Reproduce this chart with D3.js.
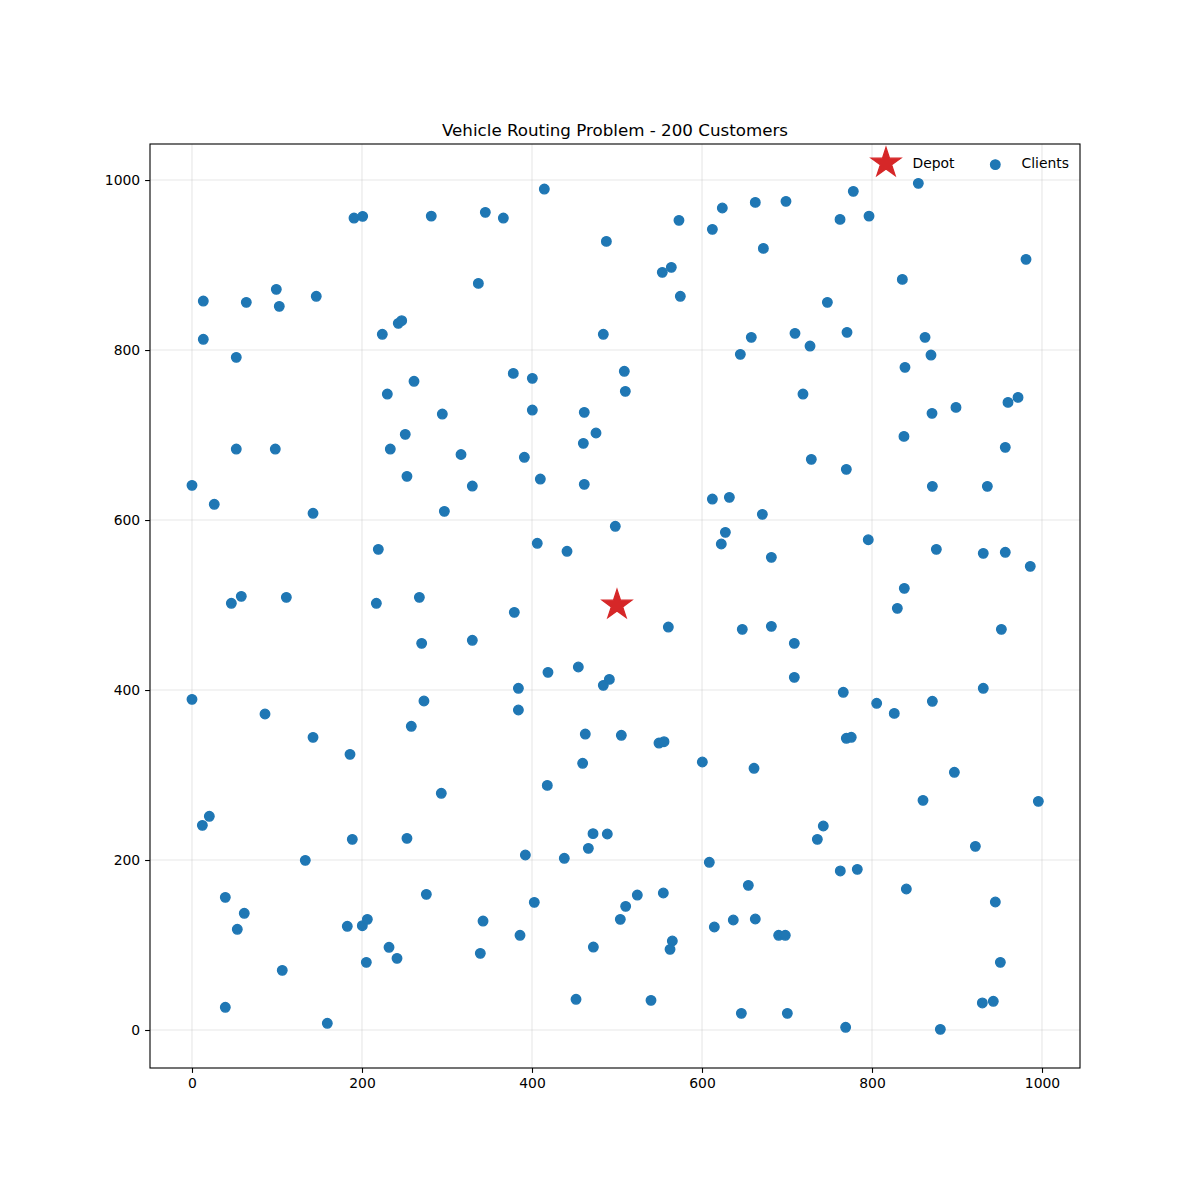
<!DOCTYPE html>
<html><head><meta charset="utf-8">
<script src="https://cdn.jsdelivr.net/npm/d3@7"></script>
<style>body{margin:0;background:#fff}text{font-family:"DejaVu Sans",sans-serif}</style>
</head><body>
<svg id="chart" width="1200" height="1200"></svg>
<script>
const title = "Vehicle Routing Problem - 200 Customers";
const depot = [500, 500];
const clientX = [
190.6,200.8,281.5,13.3,63.9,99.2,102.7,146.2,13.3,52.1,223.9,242.7,246.7,261.2,229.8,294.5,250.9,52.1,98.0,233.3,316.5,
414.5,345.1,366.3,572.9,623.9,662.7,612.2,672.2,487.5,336.9,553.3,563.9,574.5,483.9,658.0,645.1,378.0,400.4,508.6,509.8,400.4,461.5,475.3,460.4,
854.5,778.0,698.8,762.4,796.5,981.2,835.7,747.5,709.4,770.6,727.1,862.4,869.4,838.8,718.8,898.8,960.0,971.8,870.6,837.6,956.8,
252.9,329.8,0.0,26.2,142.4,296.9,219.2,46.3,58.0,111.0,216.9,267.5,270.2,329.8,0.0,85.9,272.9,258.0,142.4,185.9,
391.0,409.8,461.5,612.2,632.2,671.0,498.0,406.2,441.2,627.5,622.7,681.6,379.2,560.4,647.4,681.6,418.8,454.5,491.0,483.9,384.0,384.0,462.7,505.1,549.4,555.3,459.6,600.4,661.2,
728.6,769.8,871.0,935.7,795.6,875.7,930.9,956.8,986.2,838.0,829.8,952.2,708.6,708.6,766.2,805.5,826.2,871.0,930.9,769.8,775.6,
293.3,20.4,12.2,188.6,252.9,133.3,39.2,61.5,53.3,275.7,182.7,200.4,206.3,231.8,241.2,205.1,106.2,39.2,159.2,
418.0,471.8,488.6,466.3,392.2,438.0,608.6,654.5,402.7,523.9,554.5,510.2,503.9,342.4,385.9,339.2,472.2,565.1,562.4,614.5,636.8,662.7,451.8,540.0,646.3,
896.9,860.0,995.7,742.7,735.7,921.6,762.7,782.7,840.4,945.1,690.2,698.0,951.0,929.8,942.7,700.4,769.0,880.4
];
const clientY = [
955.3,957.3,957.6,857.6,856.1,871.4,851.4,863.2,812.6,791.4,818.5,831.4,834.5,763.2,748.2,724.7,700.8,683.5,683.5,683.5,677.1,
989.4,962.0,955.3,952.6,967.1,973.7,942.0,919.6,927.8,878.4,891.4,897.3,863.2,818.5,814.9,794.9,772.5,766.7,775.0,751.4,729.4,726.7,702.4,690.2,
996.1,986.7,974.9,953.7,957.6,906.7,883.1,856.1,819.6,820.8,804.7,814.9,794.1,779.6,748.2,732.5,738.4,744.3,725.5,698.4,685.5,
651.4,640.0,640.8,618.5,607.9,610.2,565.5,502.0,510.2,509.0,502.0,509.0,454.9,458.5,389.0,371.8,387.1,357.3,344.3,324.3,
673.8,648.2,642.0,624.7,626.7,606.7,592.6,572.6,563.2,585.5,571.8,556.1,491.4,474.1,471.4,474.9,420.8,427.1,412.5,405.5,402.0,376.5,348.2,346.7,337.6,339.2,313.8,315.3,307.9,
671.4,659.6,639.6,639.6,576.8,565.5,560.8,562.0,545.5,519.6,496.1,471.4,454.9,414.9,397.3,384.4,372.5,386.7,402.0,343.2,344.4,
278.5,251.4,240.8,224.3,225.5,199.6,156.1,137.3,118.5,159.6,122.0,122.7,130.2,97.3,84.3,79.6,70.2,26.7,7.9,
287.8,231.0,230.6,213.7,205.9,202.0,197.3,170.2,150.2,158.8,161.2,145.5,130.2,128.2,111.4,90.2,97.6,104.7,94.9,121.2,129.4,130.6,36.1,34.9,19.6,
303.2,270.2,269.0,240.0,224.3,216.1,187.1,189.0,165.9,150.6,111.4,111.4,79.6,31.8,33.8,19.6,3.2,0.8
];
const xTicks = [0, 200, 400, 600, 800, 1000];
const yTicks = [0, 200, 400, 600, 800, 1000];
const legendLabels = ["Depot", "Clients"];

const clients = clientX.map((x, i) => ({x, y: clientY[i]}));

const L = 150, R = 1080, T = 144, B = 1068;
const xScale = d3.scaleLinear().domain([-49.4, 1044.7]).range([L, R]);
const yScale = d3.scaleLinear().domain([-44.7, 1042.4]).range([B, T]);

const svg = d3.select("#chart");
svg.append("rect").attr("width", 1200).attr("height", 1200).attr("fill", "#fff");

const blue = "#1f77b4", red = "#d62728";

// grid
const grid = svg.append("g");
grid.selectAll(".gx").data(xTicks).join("line")
  .attr("x1", d => xScale(d)).attr("x2", d => xScale(d))
  .attr("y1", T).attr("y2", B)
  .attr("stroke", "#b0b0b0").attr("stroke-opacity", 0.3).attr("stroke-width", 1.1);
grid.selectAll(".gy").data(yTicks).join("line")
  .attr("y1", d => yScale(d)).attr("y2", d => yScale(d))
  .attr("x1", L).attr("x2", R)
  .attr("stroke", "#b0b0b0").attr("stroke-opacity", 0.3).attr("stroke-width", 1.1);

// depot
const starSize = 15.6 * 15.6 / 0.8908130915292852;
const star = d3.symbol().type(d3.symbolStar).size(starSize);
svg.append("path").attr("d", star())
  .attr("transform", `translate(${xScale(depot[0])},${yScale(depot[1])})`)
  .attr("fill", red).attr("stroke", red).attr("stroke-width", 1.3);

// clients
svg.append("g").selectAll("circle").data(clients).join("circle")
  .attr("cx", d => xScale(d.x)).attr("cy", d => yScale(d.y))
  .attr("r", 4.8).attr("fill", blue).attr("stroke", blue).attr("stroke-width", 1.3);

// axes
const xAxis = d3.axisBottom(xScale).tickValues(xTicks).tickSize(4.9).tickPadding(4.9).tickFormat(d3.format("d"));
const yAxis = d3.axisLeft(yScale).tickValues(yTicks).tickSize(4.9).tickPadding(4.9).tickFormat(d3.format("d"));
const gx = svg.append("g").attr("transform", `translate(0,${B})`).call(xAxis);
const gy = svg.append("g").attr("transform", `translate(${L},0)`).call(yAxis);
[gx, gy].forEach(g => {
  g.select(".domain").remove();
  g.selectAll(".tick line").attr("stroke", "#000").attr("stroke-width", 1.1);
  g.selectAll(".tick text").attr("font-size", "13.9px").attr("fill", "#000")
    .attr("font-family", "DejaVu Sans");
});

// spines
svg.append("rect").attr("x", L).attr("y", T).attr("width", R - L).attr("height", B - T)
  .attr("fill", "none").attr("stroke", "#000").attr("stroke-width", 1.1);

// title
svg.append("text").attr("x", (L + R) / 2).attr("y", T - 8.3)
  .attr("text-anchor", "middle").attr("font-size", "16.7px").attr("fill", "#000")
  .text(title);

// legend
const lg = svg.append("g");
lg.append("path").attr("d", star()).attr("transform", "translate(886,163)")
  .attr("fill", red).attr("stroke", red).attr("stroke-width", 1.3);
lg.append("text").attr("x", 912.5).attr("y", 167.5).attr("font-size", "13.9px").attr("fill", "#000").text(legendLabels[0]);
lg.append("circle").attr("cx", 995.3).attr("cy", 164.6).attr("r", 4.8)
  .attr("fill", blue).attr("stroke", blue).attr("stroke-width", 1.3);
lg.append("text").attr("x", 1021.5).attr("y", 167.5).attr("font-size", "13.9px").attr("fill", "#000").text(legendLabels[1]);
</script>
</body></html>
